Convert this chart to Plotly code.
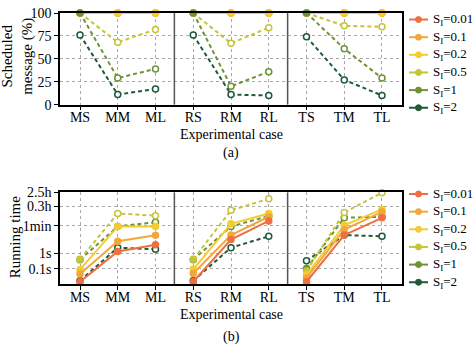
import plotly.graph_objects as go

# ---------------- data ----------------
cases = ['MS', 'MM', 'ML', 'RS', 'RM', 'RL', 'TS', 'TM', 'TL']
series_names = ['S<sub>I</sub>=0.01', 'S<sub>I</sub>=0.1', 'S<sub>I</sub>=0.2',
                'S<sub>I</sub>=0.5', 'S<sub>I</sub>=1', 'S<sub>I</sub>=2']

# Scheduled message (%)
sched_001 = [100, 100, 100, 100, 100, 100, 100, 100, 100]
sched_01 = [100, 100, 100, 100, 100, 100, 100, 100, 100]
sched_02 = [100, 100, 100, 100, 100, 100, 100, 100, 100]
sched_05 = [100, 68, 82, 100, 67, 84, 100, 86, 85]
sched_1 = [100, 29, 39, 100, 20, 36, 100, 61, 29]
sched_2 = [76, 11, 17, 76, 11, 10, 74, 27, 10]

# Running time (seconds)
time_001 = [0.014, 1.3, 3.6, 0.014, 7.8, 125, 0.014, 15, 200]
time_01 = [0.045, 6.1, 14.7, 0.048, 15, 235, 0.025, 34, 480]
time_02 = [0.085, 55, 55, 0.09, 81, 380, 0.04, 65, 700]
time_05 = [0.4, 383, 272, 0.4, 620, 3400, 0.07, 440, 8500]
time_1 = [0.38, 55, 103, 0.38, 55, 260, 0.1, 200, 235]
time_2 = [0.016, 2.3, 1.8, 0.016, 2.3, 12.6, 0.32, 15, 12.6]

time_tickvals = [0.1, 1, 60, 1080, 9000]
time_ticktext = ['0.1s', '1s', '1min', '0.3h', '2.5h']
sched_tickvals = [0, 25, 50, 75, 100]

sched_all = [sched_001, sched_01, sched_02, sched_05, sched_1, sched_2]
time_all = [time_001, time_01, time_02, time_05, time_1, time_2]

# ---------------- styles ----------------
colors = ['#ee7040', '#f2a73c', '#f2cc30', '#c6c43a', '#6f9334', '#1d5a38']
dashes = ['solid', 'solid', 'solid', '4px,3px', '4px,3px', '4px,3px']
FONT = 'Liberation Serif'

W, H = 474, 348
ML_, MR_, MT_, MB_ = 60, 72, 6, 64
PW, PH = W - ML_ - MR_, H - MT_ - MB_


def px_x(px):
    return (px - ML_) / PW


def px_y(py):
    return (H - MB_ - py) / PH


def gapped(vals, fill=None):
    out = []
    for i, v in enumerate(vals):
        out.append(v)
        if i % 3 == 2 and i != len(vals) - 1:
            out.append(fill)
    return out


xg = gapped(cases)

fig = go.Figure()


def add_series(k, yvals, xa, ya):
    col = colors[k]
    fills = [col if s >= 100 else 'white' for s in sched_all[k]]
    fig.add_trace(go.Scatter(
        x=xg, y=gapped(yvals), xaxis=xa, yaxis=ya, name=series_names[k],
        mode='lines+markers', connectgaps=False, cliponaxis=False,
        line=dict(color=col, width=2, dash=dashes[k]),
        marker=dict(size=6, color=gapped(fills, 'white'), line=dict(color=col, width=1.5)),
        showlegend=False, hoverinfo='skip'))


# panel (a): natural order; panel (b): reversed drawing order
for k in range(6):
    add_series(k, sched_all[k], 'x', 'y')
for k in reversed(range(6)):
    add_series(k, time_all[k], 'x2', 'y2')

tickfont = dict(family=FONT, size=14, color='black')
axis_common = dict(
    showline=True, linecolor='black', linewidth=1.5, mirror=True,
    ticks='outside', ticklen=4, tickcolor='black', tickwidth=1.2,
    showgrid=True, gridcolor='#a8a8a8', griddash='dot', gridwidth=1,
    zeroline=False, tickfont=tickfont)

xr = [-0.53, 8.53]
title_font = dict(family=FONT, size=14, color='black')
ytitle_font = dict(family=FONT, size=15, color='black')

annotations = [
    dict(text='Experimental case', x=0.5, y=px_y(131), xref='paper', yref='paper',
         xanchor='center', yanchor='middle', showarrow=False, font=title_font),
    dict(text='Experimental case', x=0.5, y=px_y(315), xref='paper', yref='paper',
         xanchor='center', yanchor='middle', showarrow=False, font=title_font),
    dict(text='(a)', x=0.5, y=px_y(150), xref='paper', yref='paper',
         xanchor='center', yanchor='middle', showarrow=False, font=title_font),
    dict(text='(b)', x=0.5, y=px_y(338), xref='paper', yref='paper',
         xanchor='center', yanchor='middle', showarrow=False, font=title_font),
    dict(text='Scheduled<br>message (%)', x=px_x(18), y=px_y(51), xref='paper',
         yref='paper', xanchor='center', yanchor='middle', textangle=-90,
         showarrow=False, font=ytitle_font),
    dict(text='Running time', x=px_x(15), y=px_y(236), xref='paper',
         yref='paper', xanchor='center', yanchor='middle', textangle=-90,
         showarrow=False, font=ytitle_font),
]

shapes = []
# legends (one per panel)
for row0 in (12.7, 191.7):
    for k in range(6):
        py = row0 + 18.1 * k
        yy = px_y(py)
        shapes.append(dict(type='line', xref='paper', yref='paper',
                           x0=px_x(409), x1=px_x(428), y0=yy, y1=yy,
                           line=dict(color=colors[k], width=2)))
        shapes.append(dict(type='circle', xref='paper', yref='paper',
                           xsizemode='pixel', ysizemode='pixel',
                           xanchor=px_x(418.5), yanchor=yy, x0=-3, x1=3, y0=-3, y1=3,
                           fillcolor=colors[k], line=dict(color=colors[k], width=1)))
        annotations.append(dict(text=series_names[k], x=px_x(431), y=yy,
                                xref='paper', yref='paper', xanchor='left',
                                yanchor='middle', showarrow=False,
                                font=dict(family=FONT, size=13, color='black')))

# separators between the M / R / T groups
for xa, ya in (('x', 'y domain'), ('x2', 'y2 domain')):
    for sep in (2.5, 5.5):
        shapes.append(dict(type='line', xref=xa, yref=ya, x0=sep, x1=sep, y0=0, y1=1,
                           line=dict(color='#555555', width=1.5), layer='above'))

fig.update_layout(
    width=W, height=H,
    margin=dict(l=ML_, r=MR_, t=MT_, b=MB_),
    paper_bgcolor='white', plot_bgcolor='white',
    font=dict(family=FONT, size=14, color='black'),
    showlegend=False,
    xaxis=dict(axis_common, domain=[0, 1], anchor='y', range=xr, type='category',
               ticklabelstandoff=-5),
    yaxis=dict(axis_common, domain=[px_y(100), 1], anchor='x', range=[0, 100],
               tickvals=sched_tickvals),
    xaxis2=dict(axis_common, domain=[0, 1], anchor='y2', range=xr, type='category',
                ticklabelstandoff=-5),
    yaxis2=dict(axis_common, domain=[0, px_y(190)], anchor='x2', type='log',
                range=[-2, 3.954], tickvals=time_tickvals, ticktext=time_ticktext),
    annotations=annotations,
    shapes=shapes,
)

fig.write_html('out.html')
